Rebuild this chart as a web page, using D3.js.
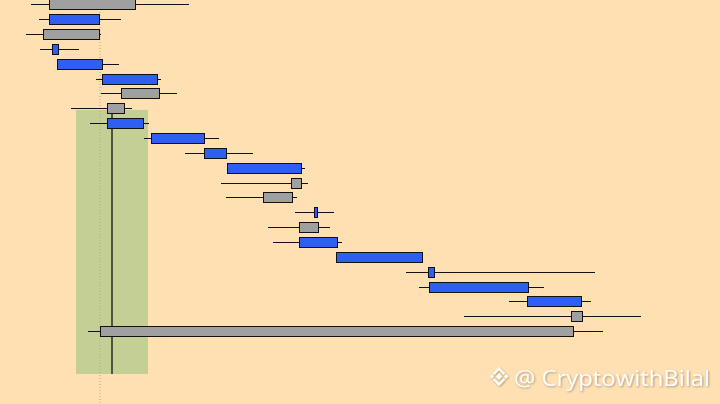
<!DOCTYPE html>
<html>
<head>
<meta charset="utf-8">
<script src="https://cdn.jsdelivr.net/npm/d3@7/dist/d3.min.js"></script>
<style>
html,body{margin:0;padding:0;background:#ffe0b3;}
svg{display:block;}
</style>
</head>
<body>
<svg id="chart" width="720" height="404"></svg>
<script>
// Rows (top to bottom), price values (hidden axis)
const rows = d3.range(23);
const openV  = [13.5, 4.9, 9.9, 5.2, 5.7, 10.2, 15.9, 12.4, 10.7, 15.1, 20.4, 22.7, 30.1, 29.2, 31.4, 31.8, 29.9, 33.6, 42.8, 42.9, 52.7, 58.2, 57.3];
const closeV = [4.9, 9.9, 4.3, 5.8, 10.2, 15.7, 12.1, 10.7, 14.3, 20.4, 22.6, 30.1, 29.1, 26.3, 31.7, 29.9, 33.7, 42.2, 43.4, 52.8, 58.1, 57.1, 10.0];
const lowV   = [3.1, 3.9, 2.6, 4.0, 5.7, 9.6, 10.1, 7.1, 9.0, 14.4, 18.5, 22.7, 22.1, 22.6, 29.5, 26.8, 27.3, 33.6, 40.6, 41.9, 50.9, 46.4, 8.8];
const highV  = [18.9, 12.1, 10.1, 7.9, 11.9, 16.1, 17.7, 13.2, 14.9, 21.9, 25.3, 30.5, 30.8, 29.7, 33.4, 33.0, 34.2, 42.2, 59.5, 54.4, 59.1, 64.1, 60.3];
const rangeZone = [7.6, 14.8];   // shaded zone (price)
const refLevel = 11.2;            // solid vertical line
const dottedLevel = 10.0;         // dotted vertical line
const watermark = "@ CryptowithBilal";

const W = 720, H = 404;
const svg = d3.select("#chart");
svg.append("rect").attr("width", W).attr("height", H).attr("fill", "#ffe0b3");

const x = d3.scaleLinear().domain([0, 72]).range([0, 720]);
const y = d3.scalePoint().domain(rows).range([4.3, 331.2]);
const boxH = 10;

const blue = "#2f5ff2", gray = "#a0a0a0";

// shaded zone
svg.append("rect")
  .attr("x", x(rangeZone[0])).attr("width", x(rangeZone[1]) - x(rangeZone[0]))
  .attr("y", y(7) + 1.5).attr("height", 374 - (y(7) + 1.5))
  .attr("fill", "#c3cf94");

// dotted line
svg.append("line")
  .attr("x1", x(dottedLevel)).attr("x2", x(dottedLevel))
  .attr("y1", 0).attr("y2", H)
  .attr("stroke", "#b8a88e").attr("stroke-width", 1).attr("stroke-dasharray", "1,2");

// reference line
svg.append("line")
  .attr("x1", x(refLevel)).attr("x2", x(refLevel))
  .attr("y1", y(7)).attr("y2", 374)
  .attr("stroke", "#000").attr("stroke-width", 1.2);

const g = svg.append("g");
// whiskers
g.selectAll("line.w").data(rows).enter().append("line")
  .attr("class", "w")
  .attr("x1", i => x(lowV[i])).attr("x2", i => x(highV[i]))
  .attr("y1", i => Math.round(y(i)) + 0.5).attr("y2", i => Math.round(y(i)) + 0.5)
  .attr("stroke", "#111").attr("stroke-width", 1.2);
// boxes
g.selectAll("rect.b").data(rows).enter().append("rect")
  .attr("class", "b")
  .attr("x", i => Math.round(x(Math.min(openV[i], closeV[i]))) + 0.5)
  .attr("width", i => Math.max(2, Math.round(Math.abs(x(closeV[i]) - x(openV[i])))))
  .attr("y", i => Math.round(y(i) - boxH / 2) + 0.5)
  .attr("height", boxH)
  .attr("fill", i => closeV[i] >= openV[i] ? blue : gray)
  .attr("stroke", "#111").attr("stroke-width", 1);

// watermark
const defs = svg.append("defs");
const f = defs.append("filter").attr("id", "sh").attr("x", "-10%").attr("y", "-30%").attr("width", "130%").attr("height", "160%");
f.append("feDropShadow").attr("dx", 1).attr("dy", 1).attr("stdDeviation", 0.9)
  .attr("flood-color", "#8a7a60").attr("flood-opacity", 0.75);

const wm = svg.append("g").attr("filter", "url(#sh)").attr("fill", "#ffffff").attr("opacity", 0.92);
// Binance-like logo
const lg = wm.append("g").attr("transform", "translate(499,376.5) scale(1.35)");
const sq = (cx, cy, s) => `M${cx},${cy - s}L${cx + s},${cy}L${cx},${cy + s}L${cx - s},${cy}Z`;
lg.append("path").attr("d", sq(0, 0, 2.4));
lg.append("path").attr("d", sq(-5.3, 0, 1.6));
lg.append("path").attr("d", sq(5.3, 0, 1.6));
lg.append("path").attr("d", "M0,-7L4.6,-2.4L3.4,-1.2L0,-4.6L-3.4,-1.2L-4.6,-2.4Z");
lg.append("path").attr("d", "M0,7L4.6,2.4L3.4,1.2L0,4.6L-3.4,1.2L-4.6,2.4Z");

wm.append("text")
  .attr("x", 514).attr("y", 386)
  .attr("font-family", "'Open Sans', sans-serif")
  .attr("font-size", 22.5)
  .attr("textLength", 196).attr("lengthAdjust", "spacingAndGlyphs")
  .text(watermark);
</script>
</body>
</html>
